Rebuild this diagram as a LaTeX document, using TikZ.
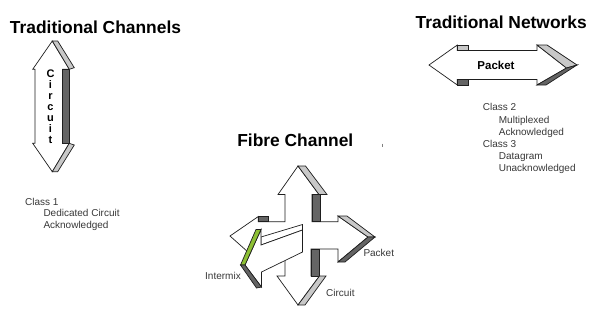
\documentclass[tikz,border=0pt]{standalone}
\usepackage{fontspec}
\setmainfont{Liberation Sans}
\definecolor{lgray}{RGB}{200,200,200}
\definecolor{dgray}{RGB}{100,100,100}
\definecolor{igreen}{RGB}{141,192,52}
\definecolor{txt}{RGB}{55,55,55}
\definecolor{edge}{RGB}{30,30,30}
\begin{document}
\begin{tikzpicture}[x=1pt,y=-1pt,
  face/.style={fill=white,draw=edge,line width=0.7pt,line join=miter},
  lband/.style={fill=lgray,draw=edge,line width=0.7pt},
  dband/.style={fill=dgray,draw=edge,line width=0.7pt},
  gband/.style={fill=igreen,draw=edge,line width=0.7pt},
  title/.style={font=\fontsize{17.4}{20}\selectfont\bfseries,inner sep=0pt},
  note/.style={font=\fontsize{10}{12}\selectfont,text=txt,inner sep=0pt,anchor=base west},
  lab/.style={font=\fontsize{10}{12}\selectfont,text=txt,inner sep=0pt,anchor=west}]
\useasboundingbox (0,0) rectangle (596,309);
% Traditional channels arrow
\draw[face] (52.3,41) -- (69.3,69.3) -- (62.7,69.3) -- (62.7,143.3) -- (69.3,143.3) -- (52.3,171.7) -- (32.7,143.3) -- (35,143.3) -- (35,69.3) -- (32.7,69.3) -- cycle;
\draw[dband] (62.7,69.3) rectangle (69.3,143.3);
\draw[lband] (52.3,41) -- (57.7,41) -- (74.3,67.7) -- (69.3,69.3) -- cycle;
\draw[lband] (69.3,143.3) -- (74.3,145) -- (57.7,171.7) -- (52.3,171.7) -- cycle;
% Packet arrow
\draw[face] (429,65) -- (457.3,45) -- (457.3,50.5) -- (537,50.5) -- (537,45) -- (566.5,68) -- (537,85) -- (537,79.5) -- (457.3,79.5) -- (457.3,85) -- cycle;
\draw[lband] (457.3,45) rectangle (468.3,50.5);
\draw[dband] (457.3,79.5) rectangle (468.3,85);
\draw[lband] (537,45) -- (547,45) -- (577,65) -- (566.5,68) -- cycle;
\draw[dband] (566.5,68) -- (577,65) -- (546,85) -- (537,85) -- cycle;
% Cross
\draw[face] (298,166) -- (319,194.5) -- (312,194.5) -- (312,221.7) -- (338,221.7) -- (338,216) -- (368,237) -- (338,262) -- (338,249) -- (311,249) -- (311,276) -- (319.5,276) -- (298,305) -- (277,276) -- (285,276) -- (285,252) -- (248,252) -- (230,236) -- (258.3,216.5) -- (258.3,221.7) -- (285,221.7) -- (285,194.5) -- (278,194.5) -- cycle;
\draw[dband] (312,194.5) rectangle (320,221.7);
\draw[dband] (311,249) rectangle (319.5,276);
\draw[lband] (298,166) -- (305.5,166) -- (327,194.5) -- (319,194.5) -- cycle;
\draw[lband] (319.5,276) -- (326,276) -- (305,305) -- (298,305) -- cycle;
\draw[lband] (338,216) -- (347,216) -- (375,237) -- (368,237) -- cycle;
\draw[dband] (368,237) -- (375,237) -- (345,262) -- (338,262) -- cycle;
\draw[dband] (258.3,216.5) rectangle (268.3,221.7);
% Intermix arrow
\draw[face] (261,237) -- (302.5,224.5) -- (302.5,230) -- (261,245) -- cycle;
\draw[face] (245,265) -- (261,229.5) -- (261,245) -- (302.5,230) -- (302.5,252) -- (261.5,272) -- (261.5,287) -- cycle;
\draw[gband] (256,229.5) -- (261,229.5) -- (245,265) -- (240.5,265) -- cycle;
\draw[dband] (240.5,265) -- (245,265) -- (261.5,287) -- (256.5,288) -- cycle;
% Titles
\node[title] (tc) at (95.5,27) {Traditional Channels};
\node[title] (tn) at (501.2,22) {Traditional Networks};
\node[title] (fc) at (295.3,140) {Fibre Channel};
\draw[gray,line width=0.8pt] (382,143.5) -- (382,146.5);
% Arrow labels
\node[font=\fontsize{11}{11}\selectfont\bfseries,align=center,inner sep=0pt] (vc) at (50.5,107) {C\\i\\r\\c\\u\\i\\t};
\node[font=\fontsize{11.5}{12}\selectfont\bfseries,inner sep=0pt] (pk) at (496,65) {Packet};
\node[lab] (im) at (205,276) {Intermix};
\node[lab] (pl) at (363.3,253.3) {Packet};
\node[lab] (cl) at (326,292.7) {Circuit};
% Notes
\node[note] (c1) at (25,205.3) {Class 1};
\node[note] (c1a) at (43.3,216.3) {Dedicated Circuit};
\node[note] (c1b) at (43.3,228.6) {Acknowledged};
\node[note] (c2) at (482.7,110.9) {Class 2};
\node[note] (c2a) at (498.7,123.1) {Multiplexed};
\node[note] (c2b) at (498.7,135.3) {Acknowledged};
\node[note] (c3) at (482.7,147.5) {Class 3};
\node[note] (c3a) at (498.7,159.7) {Datagram};
\node[note] (c3b) at (498.7,171.9) {Unacknowledged};
\end{tikzpicture}
\end{document}
